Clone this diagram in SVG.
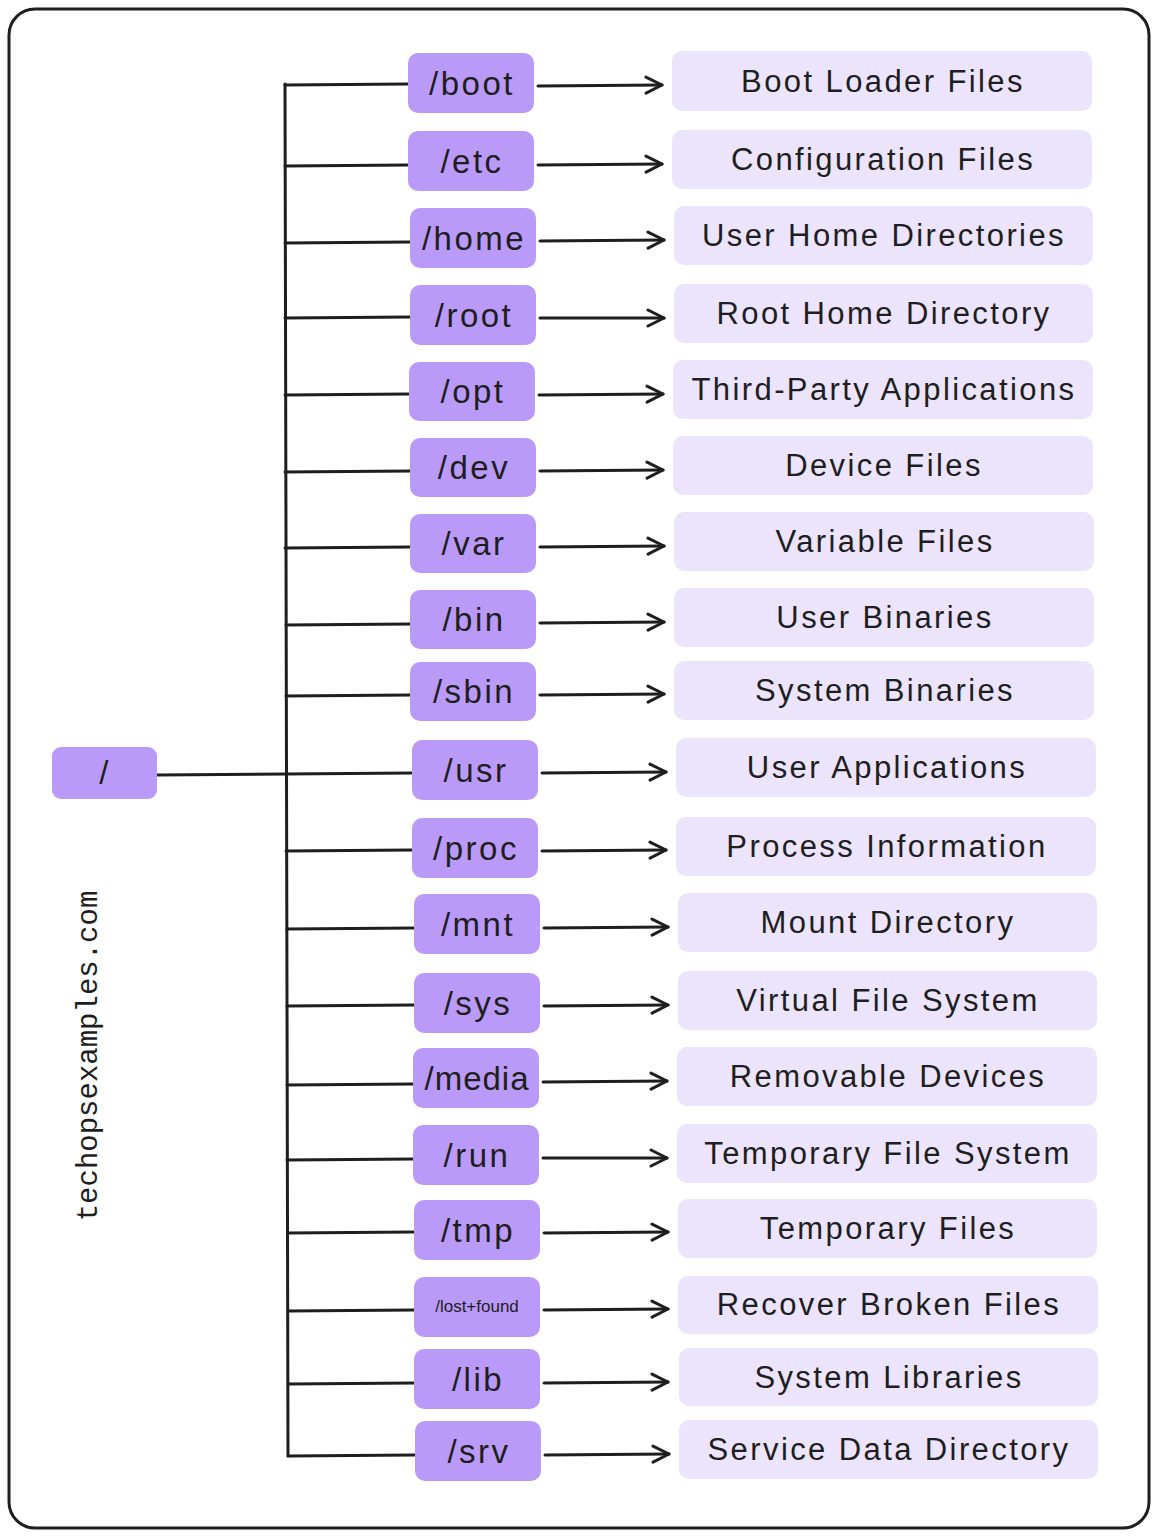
<svg xmlns="http://www.w3.org/2000/svg" width="1158" height="1536" viewBox="0 0 1158 1536">
<defs>
<style>
.dir{fill:#b99af9}
.desc{fill:#ebe4fc}
.dt{font-family:"Liberation Sans","Noto Sans",sans-serif;font-size:33px;letter-spacing:2.5px;fill:#1e1e1e;text-anchor:middle;dominant-baseline:central}
.ds{font-family:"Liberation Sans","Noto Sans",sans-serif;font-size:31px;letter-spacing:2.4px;fill:#1e1e1e;text-anchor:middle;dominant-baseline:central}
.ln{stroke:#1e1e1e;stroke-width:3;fill:none;stroke-linecap:round}
</style>
<marker id="ah" viewBox="0 0 20 20" refX="18" refY="10" markerWidth="20" markerHeight="20" markerUnits="userSpaceOnUse" orient="auto">
<path d="M2,2 L18,10 L2,18" fill="none" stroke="#1e1e1e" stroke-width="3" stroke-linecap="round" stroke-linejoin="round"/>
</marker>
</defs>
<rect width="1158" height="1536" fill="#ffffff"/>
<rect x="9" y="9" width="1140" height="1519" rx="26" fill="none" stroke="#1e1e1e" stroke-width="3"/>
<text transform="translate(89,1056) rotate(-90)" font-family="'Liberation Mono','DejaVu Sans Mono',monospace" font-size="29" fill="#1e1e1e" text-anchor="middle" dominant-baseline="central">techopsexamples.com</text>
<g id="connectors">
<line class="ln" x1="285" y1="84" x2="288" y2="1456"/>
<line class="ln" x1="157" y1="775" x2="412" y2="773"/>
<line class="ln" x1="285" y1="85" x2="408" y2="84"/>
<line class="ln" x1="285" y1="166" x2="408" y2="165"/>
<line class="ln" x1="285" y1="243" x2="410" y2="242"/>
<line class="ln" x1="285" y1="318" x2="410" y2="317"/>
<line class="ln" x1="285" y1="395" x2="409" y2="394"/>
<line class="ln" x1="285" y1="472" x2="410" y2="471"/>
<line class="ln" x1="285" y1="548" x2="410" y2="547"/>
<line class="ln" x1="286" y1="625" x2="410" y2="624"/>
<line class="ln" x1="286" y1="696" x2="410" y2="695"/>
<line class="ln" x1="286" y1="851" x2="412" y2="850"/>
<line class="ln" x1="287" y1="929" x2="414" y2="928"/>
<line class="ln" x1="287" y1="1006" x2="414" y2="1005"/>
<line class="ln" x1="287" y1="1085" x2="413" y2="1084"/>
<line class="ln" x1="287" y1="1160" x2="413" y2="1159"/>
<line class="ln" x1="288" y1="1233" x2="414" y2="1232"/>
<line class="ln" x1="288" y1="1311" x2="414" y2="1310"/>
<line class="ln" x1="288" y1="1384" x2="414" y2="1383"/>
<line class="ln" x1="288" y1="1456" x2="415" y2="1455"/>
<line class="ln" marker-end="url(#ah)" x1="538" y1="86" x2="662" y2="85"/>
<line class="ln" marker-end="url(#ah)" x1="538" y1="165" x2="662" y2="164"/>
<line class="ln" marker-end="url(#ah)" x1="540" y1="241" x2="664" y2="240"/>
<line class="ln" marker-end="url(#ah)" x1="540" y1="318" x2="664" y2="318"/>
<line class="ln" marker-end="url(#ah)" x1="539" y1="395" x2="663" y2="394"/>
<line class="ln" marker-end="url(#ah)" x1="540" y1="471" x2="663" y2="470"/>
<line class="ln" marker-end="url(#ah)" x1="540" y1="547" x2="664" y2="546"/>
<line class="ln" marker-end="url(#ah)" x1="540" y1="623" x2="664" y2="622"/>
<line class="ln" marker-end="url(#ah)" x1="540" y1="695" x2="664" y2="694"/>
<line class="ln" marker-end="url(#ah)" x1="542" y1="773" x2="666" y2="772"/>
<line class="ln" marker-end="url(#ah)" x1="542" y1="851" x2="666" y2="850"/>
<line class="ln" marker-end="url(#ah)" x1="544" y1="928" x2="668" y2="927"/>
<line class="ln" marker-end="url(#ah)" x1="544" y1="1006" x2="668" y2="1005"/>
<line class="ln" marker-end="url(#ah)" x1="543" y1="1082" x2="667" y2="1081"/>
<line class="ln" marker-end="url(#ah)" x1="543" y1="1158" x2="667" y2="1158"/>
<line class="ln" marker-end="url(#ah)" x1="544" y1="1233" x2="668" y2="1232"/>
<line class="ln" marker-end="url(#ah)" x1="544" y1="1310" x2="668" y2="1309"/>
<line class="ln" marker-end="url(#ah)" x1="544" y1="1383" x2="668" y2="1382"/>
<line class="ln" marker-end="url(#ah)" x1="545" y1="1455" x2="669" y2="1454"/>
</g>
<g id="root"><rect class="dir" x="52" y="747" width="105" height="52" rx="9"/><text class="dt" x="105" y="772">/</text></g>
<g id="n-boot"><rect class="dir" x="408" y="53" width="126" height="60" rx="10"/><text class="dt" x="472" y="83">/boot</text></g>
<g id="d-boot"><rect class="desc" x="672" y="51" width="420" height="60" rx="10"/><text class="ds" x="883" y="81">Boot Loader Files</text></g>
<g id="n-etc"><rect class="dir" x="408" y="131" width="126" height="60" rx="10"/><text class="dt" x="472" y="161">/etc</text></g>
<g id="d-etc"><rect class="desc" x="672" y="130" width="420" height="59" rx="10"/><text class="ds" x="883" y="159">Configuration Files</text></g>
<g id="n-home"><rect class="dir" x="410" y="208" width="126" height="60" rx="10"/><text class="dt" x="474" y="238">/home</text></g>
<g id="d-home"><rect class="desc" x="674" y="206" width="419" height="59" rx="10"/><text class="ds" x="884" y="235">User Home Directories</text></g>
<g id="n-root"><rect class="dir" x="410" y="285" width="126" height="60" rx="10"/><text class="dt" x="474" y="315">/root</text></g>
<g id="d-root"><rect class="desc" x="674" y="284" width="419" height="59" rx="10"/><text class="ds" x="884" y="313">Root Home Directory</text></g>
<g id="n-opt"><rect class="dir" x="409" y="362" width="126" height="59" rx="10"/><text class="dt" x="473" y="391">/opt</text></g>
<g id="d-opt"><rect class="desc" x="673" y="360" width="420" height="59" rx="10"/><text class="ds" x="884" y="389">Third-Party Applications</text></g>
<g id="n-dev"><rect class="dir" x="410" y="438" width="126" height="59" rx="10"/><text class="dt" x="474" y="467">/dev</text></g>
<g id="d-dev"><rect class="desc" x="673" y="436" width="420" height="59" rx="10"/><text class="ds" x="884" y="465">Device Files</text></g>
<g id="n-var"><rect class="dir" x="410" y="514" width="126" height="59" rx="10"/><text class="dt" x="474" y="543">/var</text></g>
<g id="d-var"><rect class="desc" x="674" y="512" width="420" height="59" rx="10"/><text class="ds" x="885" y="541">Variable Files</text></g>
<g id="n-bin"><rect class="dir" x="410" y="590" width="126" height="59" rx="10"/><text class="dt" x="474" y="619">/bin</text></g>
<g id="d-bin"><rect class="desc" x="674" y="588" width="420" height="59" rx="10"/><text class="ds" x="885" y="617">User Binaries</text></g>
<g id="n-sbin"><rect class="dir" x="410" y="662" width="126" height="59" rx="10"/><text class="dt" x="474" y="691">/sbin</text></g>
<g id="d-sbin"><rect class="desc" x="674" y="661" width="420" height="59" rx="10"/><text class="ds" x="885" y="690">System Binaries</text></g>
<g id="n-usr"><rect class="dir" x="412" y="740" width="126" height="60" rx="10"/><text class="dt" x="476" y="770">/usr</text></g>
<g id="d-usr"><rect class="desc" x="676" y="738" width="420" height="59" rx="10"/><text class="ds" x="887" y="767">User Applications</text></g>
<g id="n-proc"><rect class="dir" x="412" y="818" width="126" height="60" rx="10"/><text class="dt" x="476" y="848">/proc</text></g>
<g id="d-proc"><rect class="desc" x="676" y="817" width="420" height="59" rx="10"/><text class="ds" x="887" y="846">Process Information</text></g>
<g id="n-mnt"><rect class="dir" x="414" y="894" width="126" height="60" rx="10"/><text class="dt" x="478" y="924">/mnt</text></g>
<g id="d-mnt"><rect class="desc" x="678" y="893" width="419" height="59" rx="10"/><text class="ds" x="888" y="922">Mount Directory</text></g>
<g id="n-sys"><rect class="dir" x="414" y="973" width="126" height="60" rx="10"/><text class="dt" x="478" y="1003">/sys</text></g>
<g id="d-sys"><rect class="desc" x="678" y="971" width="419" height="59" rx="10"/><text class="ds" x="888" y="1000">Virtual File System</text></g>
<g id="n-media"><rect class="dir" x="413" y="1048" width="126" height="60" rx="10"/><text class="dt" x="477" y="1078" style="letter-spacing:1px">/media</text></g>
<g id="d-media"><rect class="desc" x="677" y="1047" width="420" height="59" rx="10"/><text class="ds" x="888" y="1076">Removable Devices</text></g>
<g id="n-run"><rect class="dir" x="413" y="1125" width="126" height="60" rx="10"/><text class="dt" x="477" y="1155">/run</text></g>
<g id="d-run"><rect class="desc" x="677" y="1124" width="420" height="59" rx="10"/><text class="ds" x="888" y="1153">Temporary File System</text></g>
<g id="n-tmp"><rect class="dir" x="414" y="1200" width="126" height="60" rx="10"/><text class="dt" x="478" y="1230">/tmp</text></g>
<g id="d-tmp"><rect class="desc" x="678" y="1199" width="419" height="59" rx="10"/><text class="ds" x="888" y="1228">Temporary Files</text></g>
<g id="n-lostfound"><rect class="dir" x="414" y="1277" width="126" height="60" rx="10"/><text class="dt" x="477" y="1306" style="font-size:17px;letter-spacing:0px">/lost+found</text></g>
<g id="d-lostfound"><rect class="desc" x="678" y="1276" width="420" height="58" rx="10"/><text class="ds" x="889" y="1304">Recover Broken Files</text></g>
<g id="n-lib"><rect class="dir" x="414" y="1349" width="126" height="60" rx="10"/><text class="dt" x="478" y="1379">/lib</text></g>
<g id="d-lib"><rect class="desc" x="679" y="1348" width="419" height="58" rx="10"/><text class="ds" x="889" y="1377">System Libraries</text></g>
<g id="n-srv"><rect class="dir" x="415" y="1421" width="126" height="60" rx="10"/><text class="dt" x="479" y="1451">/srv</text></g>
<g id="d-srv"><rect class="desc" x="679" y="1420" width="419" height="59" rx="10"/><text class="ds" x="889" y="1449">Service Data Directory</text></g>
</svg>
